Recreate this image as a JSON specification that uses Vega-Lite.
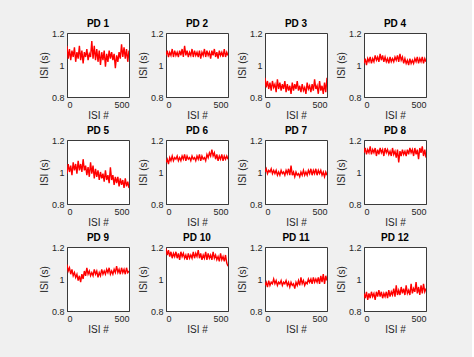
{
  "$schema": "https://vega.github.io/schema/vega-lite/v6.json",
  "background": "#f0f0f0",
  "padding": {"left": 39, "top": 18, "right": 45, "bottom": 22},
  "config": {
    "font": "Liberation Sans",
    "view": {"fill": "white", "stroke": "#3a3a3a", "strokeWidth": 1},
    "axis": {
      "domainColor": "#3a3a3a",
      "labelColor": "#262626",
      "labelFontSize": 9,
      "titleColor": "#262626",
      "titleFontSize": 10,
      "titleFontWeight": "normal",
      "ticks": false,
      "grid": false,
      "labelPadding": 3
    },
    "header": {
      "labelFontSize": 10,
      "labelFontWeight": "bold",
      "labelColor": "black",
      "labelPadding": 0
    }
  },
  "data": {
    "values": [
      {"pd":1,"n":0,"isi":1.12},{"pd":1,"n":10,"isi":1.04},{"pd":1,"n":20,"isi":1.10},{"pd":1,"n":30,"isi":1.03},{"pd":1,"n":40,"isi":1.09},{"pd":1,"n":50,"isi":1.05},{"pd":1,"n":60,"isi":1.11},{"pd":1,"n":70,"isi":1.02},{"pd":1,"n":80,"isi":1.08},{"pd":1,"n":90,"isi":1.04},{"pd":1,"n":100,"isi":1.12},{"pd":1,"n":110,"isi":1.03},{"pd":1,"n":120,"isi":1.09},{"pd":1,"n":130,"isi":1.01},{"pd":1,"n":140,"isi":1.08},{"pd":1,"n":150,"isi":1.05},{"pd":1,"n":160,"isi":1.10},{"pd":1,"n":170,"isi":1.03},{"pd":1,"n":180,"isi":1.07},{"pd":1,"n":190,"isi":1.05},{"pd":1,"n":200,"isi":1.15},{"pd":1,"n":210,"isi":1.04},{"pd":1,"n":220,"isi":1.12},{"pd":1,"n":230,"isi":1.03},{"pd":1,"n":240,"isi":1.10},{"pd":1,"n":250,"isi":1.02},{"pd":1,"n":260,"isi":1.09},{"pd":1,"n":270,"isi":1.00},{"pd":1,"n":280,"isi":1.08},{"pd":1,"n":290,"isi":1.03},{"pd":1,"n":300,"isi":1.09},{"pd":1,"n":310,"isi":0.99},{"pd":1,"n":320,"isi":1.07},{"pd":1,"n":330,"isi":1.02},{"pd":1,"n":340,"isi":1.09},{"pd":1,"n":350,"isi":1.04},{"pd":1,"n":360,"isi":1.08},{"pd":1,"n":370,"isi":1.03},{"pd":1,"n":380,"isi":1.07},{"pd":1,"n":390,"isi":0.98},{"pd":1,"n":400,"isi":1.06},{"pd":1,"n":410,"isi":1.02},{"pd":1,"n":420,"isi":1.08},{"pd":1,"n":430,"isi":1.04},{"pd":1,"n":440,"isi":1.13},{"pd":1,"n":450,"isi":1.05},{"pd":1,"n":460,"isi":1.11},{"pd":1,"n":470,"isi":1.04},{"pd":1,"n":480,"isi":1.10},{"pd":1,"n":490,"isi":1.02},{"pd":1,"n":500,"isi":1.09},
      {"pd":2,"n":0,"isi":1.06},{"pd":2,"n":10,"isi":1.09},{"pd":2,"n":20,"isi":1.05},{"pd":2,"n":30,"isi":1.08},{"pd":2,"n":40,"isi":1.06},{"pd":2,"n":50,"isi":1.10},{"pd":2,"n":60,"isi":1.05},{"pd":2,"n":70,"isi":1.09},{"pd":2,"n":80,"isi":1.06},{"pd":2,"n":90,"isi":1.08},{"pd":2,"n":100,"isi":1.05},{"pd":2,"n":110,"isi":1.09},{"pd":2,"n":120,"isi":1.06},{"pd":2,"n":130,"isi":1.10},{"pd":2,"n":140,"isi":1.05},{"pd":2,"n":150,"isi":1.12},{"pd":2,"n":160,"isi":1.06},{"pd":2,"n":170,"isi":1.09},{"pd":2,"n":180,"isi":1.05},{"pd":2,"n":190,"isi":1.08},{"pd":2,"n":200,"isi":1.06},{"pd":2,"n":210,"isi":1.10},{"pd":2,"n":220,"isi":1.05},{"pd":2,"n":230,"isi":1.09},{"pd":2,"n":240,"isi":1.06},{"pd":2,"n":250,"isi":1.08},{"pd":2,"n":260,"isi":1.05},{"pd":2,"n":270,"isi":1.09},{"pd":2,"n":280,"isi":1.04},{"pd":2,"n":290,"isi":1.08},{"pd":2,"n":300,"isi":1.06},{"pd":2,"n":310,"isi":1.10},{"pd":2,"n":320,"isi":1.05},{"pd":2,"n":330,"isi":1.09},{"pd":2,"n":340,"isi":1.06},{"pd":2,"n":350,"isi":1.08},{"pd":2,"n":360,"isi":1.04},{"pd":2,"n":370,"isi":1.09},{"pd":2,"n":380,"isi":1.06},{"pd":2,"n":390,"isi":1.10},{"pd":2,"n":400,"isi":1.05},{"pd":2,"n":410,"isi":1.08},{"pd":2,"n":420,"isi":1.04},{"pd":2,"n":430,"isi":1.09},{"pd":2,"n":440,"isi":1.06},{"pd":2,"n":450,"isi":1.08},{"pd":2,"n":460,"isi":1.05},{"pd":2,"n":470,"isi":1.10},{"pd":2,"n":480,"isi":1.05},{"pd":2,"n":490,"isi":1.08},{"pd":2,"n":500,"isi":1.06},
      {"pd":3,"n":0,"isi":0.92},{"pd":3,"n":10,"isi":0.86},{"pd":3,"n":20,"isi":0.90},{"pd":3,"n":30,"isi":0.85},{"pd":3,"n":40,"isi":0.89},{"pd":3,"n":50,"isi":0.84},{"pd":3,"n":60,"isi":0.90},{"pd":3,"n":70,"isi":0.86},{"pd":3,"n":80,"isi":0.88},{"pd":3,"n":90,"isi":0.83},{"pd":3,"n":100,"isi":0.91},{"pd":3,"n":110,"isi":0.85},{"pd":3,"n":120,"isi":0.89},{"pd":3,"n":130,"isi":0.84},{"pd":3,"n":140,"isi":0.88},{"pd":3,"n":150,"isi":0.85},{"pd":3,"n":160,"isi":0.90},{"pd":3,"n":170,"isi":0.83},{"pd":3,"n":180,"isi":0.88},{"pd":3,"n":190,"isi":0.84},{"pd":3,"n":200,"isi":0.87},{"pd":3,"n":210,"isi":0.82},{"pd":3,"n":220,"isi":0.89},{"pd":3,"n":230,"isi":0.84},{"pd":3,"n":240,"isi":0.88},{"pd":3,"n":250,"isi":0.85},{"pd":3,"n":260,"isi":0.90},{"pd":3,"n":270,"isi":0.84},{"pd":3,"n":280,"isi":0.87},{"pd":3,"n":290,"isi":0.83},{"pd":3,"n":300,"isi":0.88},{"pd":3,"n":310,"isi":0.84},{"pd":3,"n":320,"isi":0.86},{"pd":3,"n":330,"isi":0.82},{"pd":3,"n":340,"isi":0.89},{"pd":3,"n":350,"isi":0.85},{"pd":3,"n":360,"isi":0.87},{"pd":3,"n":370,"isi":0.83},{"pd":3,"n":380,"isi":0.88},{"pd":3,"n":390,"isi":0.84},{"pd":3,"n":400,"isi":0.91},{"pd":3,"n":410,"isi":0.85},{"pd":3,"n":420,"isi":0.87},{"pd":3,"n":430,"isi":0.82},{"pd":3,"n":440,"isi":0.90},{"pd":3,"n":450,"isi":0.84},{"pd":3,"n":460,"isi":0.87},{"pd":3,"n":470,"isi":0.82},{"pd":3,"n":480,"isi":0.89},{"pd":3,"n":490,"isi":0.83},{"pd":3,"n":500,"isi":0.92},
      {"pd":4,"n":0,"isi":1.01},{"pd":4,"n":10,"isi":1.04},{"pd":4,"n":20,"isi":1.00},{"pd":4,"n":30,"isi":1.04},{"pd":4,"n":40,"isi":1.02},{"pd":4,"n":50,"isi":1.05},{"pd":4,"n":60,"isi":1.01},{"pd":4,"n":70,"isi":1.04},{"pd":4,"n":80,"isi":1.02},{"pd":4,"n":90,"isi":1.06},{"pd":4,"n":100,"isi":1.03},{"pd":4,"n":110,"isi":1.05},{"pd":4,"n":120,"isi":1.02},{"pd":4,"n":130,"isi":1.07},{"pd":4,"n":140,"isi":1.03},{"pd":4,"n":150,"isi":1.06},{"pd":4,"n":160,"isi":1.02},{"pd":4,"n":170,"isi":1.05},{"pd":4,"n":180,"isi":1.02},{"pd":4,"n":190,"isi":1.04},{"pd":4,"n":200,"isi":1.01},{"pd":4,"n":210,"isi":1.05},{"pd":4,"n":220,"isi":1.02},{"pd":4,"n":230,"isi":1.04},{"pd":4,"n":240,"isi":1.02},{"pd":4,"n":250,"isi":1.05},{"pd":4,"n":260,"isi":1.03},{"pd":4,"n":270,"isi":1.06},{"pd":4,"n":280,"isi":1.02},{"pd":4,"n":290,"isi":1.07},{"pd":4,"n":300,"isi":1.03},{"pd":4,"n":310,"isi":1.05},{"pd":4,"n":320,"isi":1.01},{"pd":4,"n":330,"isi":1.04},{"pd":4,"n":340,"isi":1.01},{"pd":4,"n":350,"isi":1.03},{"pd":4,"n":360,"isi":1.00},{"pd":4,"n":370,"isi":1.04},{"pd":4,"n":380,"isi":1.01},{"pd":4,"n":390,"isi":1.03},{"pd":4,"n":400,"isi":1.01},{"pd":4,"n":410,"isi":1.04},{"pd":4,"n":420,"isi":1.02},{"pd":4,"n":430,"isi":1.05},{"pd":4,"n":440,"isi":1.01},{"pd":4,"n":450,"isi":1.04},{"pd":4,"n":460,"isi":1.02},{"pd":4,"n":470,"isi":1.05},{"pd":4,"n":480,"isi":1.01},{"pd":4,"n":490,"isi":1.04},{"pd":4,"n":500,"isi":1.02},
      {"pd":5,"n":0,"isi":0.99},{"pd":5,"n":10,"isi":1.05},{"pd":5,"n":20,"isi":1.00},{"pd":5,"n":30,"isi":1.04},{"pd":5,"n":40,"isi":0.98},{"pd":5,"n":50,"isi":1.06},{"pd":5,"n":60,"isi":1.01},{"pd":5,"n":70,"isi":1.05},{"pd":5,"n":80,"isi":0.99},{"pd":5,"n":90,"isi":1.07},{"pd":5,"n":100,"isi":1.01},{"pd":5,"n":110,"isi":1.05},{"pd":5,"n":120,"isi":1.00},{"pd":5,"n":130,"isi":1.08},{"pd":5,"n":140,"isi":1.01},{"pd":5,"n":150,"isi":1.04},{"pd":5,"n":160,"isi":0.98},{"pd":5,"n":170,"isi":1.03},{"pd":5,"n":180,"isi":0.97},{"pd":5,"n":190,"isi":1.06},{"pd":5,"n":200,"isi":0.99},{"pd":5,"n":210,"isi":1.04},{"pd":5,"n":220,"isi":0.96},{"pd":5,"n":230,"isi":1.02},{"pd":5,"n":240,"isi":0.97},{"pd":5,"n":250,"isi":1.01},{"pd":5,"n":260,"isi":0.95},{"pd":5,"n":270,"isi":1.00},{"pd":5,"n":280,"isi":0.96},{"pd":5,"n":290,"isi":0.99},{"pd":5,"n":300,"isi":0.94},{"pd":5,"n":310,"isi":1.01},{"pd":5,"n":320,"isi":0.95},{"pd":5,"n":330,"isi":0.98},{"pd":5,"n":340,"isi":0.93},{"pd":5,"n":350,"isi":1.03},{"pd":5,"n":360,"isi":0.95},{"pd":5,"n":370,"isi":0.98},{"pd":5,"n":380,"isi":0.92},{"pd":5,"n":390,"isi":0.97},{"pd":5,"n":400,"isi":0.93},{"pd":5,"n":410,"isi":0.97},{"pd":5,"n":420,"isi":0.91},{"pd":5,"n":430,"isi":0.96},{"pd":5,"n":440,"isi":0.92},{"pd":5,"n":450,"isi":0.95},{"pd":5,"n":460,"isi":0.90},{"pd":5,"n":470,"isi":0.96},{"pd":5,"n":480,"isi":0.91},{"pd":5,"n":490,"isi":0.94},{"pd":5,"n":500,"isi":0.90},
      {"pd":6,"n":0,"isi":1.06},{"pd":6,"n":10,"isi":1.08},{"pd":6,"n":20,"isi":1.05},{"pd":6,"n":30,"isi":1.09},{"pd":6,"n":40,"isi":1.07},{"pd":6,"n":50,"isi":1.10},{"pd":6,"n":60,"isi":1.07},{"pd":6,"n":70,"isi":1.09},{"pd":6,"n":80,"isi":1.08},{"pd":6,"n":90,"isi":1.10},{"pd":6,"n":100,"isi":1.07},{"pd":6,"n":110,"isi":1.09},{"pd":6,"n":120,"isi":1.07},{"pd":6,"n":130,"isi":1.10},{"pd":6,"n":140,"isi":1.08},{"pd":6,"n":150,"isi":1.11},{"pd":6,"n":160,"isi":1.07},{"pd":6,"n":170,"isi":1.10},{"pd":6,"n":180,"isi":1.08},{"pd":6,"n":190,"isi":1.09},{"pd":6,"n":200,"isi":1.07},{"pd":6,"n":210,"isi":1.10},{"pd":6,"n":220,"isi":1.08},{"pd":6,"n":230,"isi":1.09},{"pd":6,"n":240,"isi":1.07},{"pd":6,"n":250,"isi":1.10},{"pd":6,"n":260,"isi":1.08},{"pd":6,"n":270,"isi":1.11},{"pd":6,"n":280,"isi":1.07},{"pd":6,"n":290,"isi":1.10},{"pd":6,"n":300,"isi":1.08},{"pd":6,"n":310,"isi":1.09},{"pd":6,"n":320,"isi":1.07},{"pd":6,"n":330,"isi":1.11},{"pd":6,"n":340,"isi":1.09},{"pd":6,"n":350,"isi":1.12},{"pd":6,"n":360,"isi":1.10},{"pd":6,"n":370,"isi":1.14},{"pd":6,"n":380,"isi":1.10},{"pd":6,"n":390,"isi":1.12},{"pd":6,"n":400,"isi":1.08},{"pd":6,"n":410,"isi":1.11},{"pd":6,"n":420,"isi":1.07},{"pd":6,"n":430,"isi":1.10},{"pd":6,"n":440,"isi":1.08},{"pd":6,"n":450,"isi":1.11},{"pd":6,"n":460,"isi":1.07},{"pd":6,"n":470,"isi":1.10},{"pd":6,"n":480,"isi":1.08},{"pd":6,"n":490,"isi":1.10},{"pd":6,"n":500,"isi":1.08},
      {"pd":7,"n":0,"isi":1.00},{"pd":7,"n":10,"isi":1.02},{"pd":7,"n":20,"isi":0.99},{"pd":7,"n":30,"isi":1.01},{"pd":7,"n":40,"isi":1.00},{"pd":7,"n":50,"isi":1.02},{"pd":7,"n":60,"isi":0.99},{"pd":7,"n":70,"isi":1.01},{"pd":7,"n":80,"isi":0.99},{"pd":7,"n":90,"isi":1.01},{"pd":7,"n":100,"isi":0.98},{"pd":7,"n":110,"isi":1.00},{"pd":7,"n":120,"isi":0.98},{"pd":7,"n":130,"isi":1.01},{"pd":7,"n":140,"isi":0.99},{"pd":7,"n":150,"isi":1.00},{"pd":7,"n":160,"isi":0.98},{"pd":7,"n":170,"isi":1.01},{"pd":7,"n":180,"isi":0.99},{"pd":7,"n":190,"isi":1.02},{"pd":7,"n":200,"isi":0.98},{"pd":7,"n":210,"isi":1.04},{"pd":7,"n":220,"isi":0.98},{"pd":7,"n":230,"isi":1.00},{"pd":7,"n":240,"isi":0.97},{"pd":7,"n":250,"isi":1.00},{"pd":7,"n":260,"isi":0.98},{"pd":7,"n":270,"isi":0.99},{"pd":7,"n":280,"isi":0.97},{"pd":7,"n":290,"isi":1.00},{"pd":7,"n":300,"isi":0.98},{"pd":7,"n":310,"isi":1.01},{"pd":7,"n":320,"isi":0.98},{"pd":7,"n":330,"isi":1.00},{"pd":7,"n":340,"isi":0.98},{"pd":7,"n":350,"isi":1.01},{"pd":7,"n":360,"isi":0.99},{"pd":7,"n":370,"isi":1.02},{"pd":7,"n":380,"isi":0.98},{"pd":7,"n":390,"isi":1.01},{"pd":7,"n":400,"isi":0.99},{"pd":7,"n":410,"isi":1.02},{"pd":7,"n":420,"isi":0.98},{"pd":7,"n":430,"isi":1.01},{"pd":7,"n":440,"isi":0.99},{"pd":7,"n":450,"isi":1.01},{"pd":7,"n":460,"isi":0.98},{"pd":7,"n":470,"isi":1.00},{"pd":7,"n":480,"isi":0.97},{"pd":7,"n":490,"isi":1.00},{"pd":7,"n":500,"isi":0.98},
      {"pd":8,"n":0,"isi":1.12},{"pd":8,"n":10,"isi":1.15},{"pd":8,"n":20,"isi":1.11},{"pd":8,"n":30,"isi":1.14},{"pd":8,"n":40,"isi":1.12},{"pd":8,"n":50,"isi":1.16},{"pd":8,"n":60,"isi":1.11},{"pd":8,"n":70,"isi":1.14},{"pd":8,"n":80,"isi":1.12},{"pd":8,"n":90,"isi":1.15},{"pd":8,"n":100,"isi":1.10},{"pd":8,"n":110,"isi":1.14},{"pd":8,"n":120,"isi":1.11},{"pd":8,"n":130,"isi":1.15},{"pd":8,"n":140,"isi":1.12},{"pd":8,"n":150,"isi":1.14},{"pd":8,"n":160,"isi":1.10},{"pd":8,"n":170,"isi":1.15},{"pd":8,"n":180,"isi":1.12},{"pd":8,"n":190,"isi":1.14},{"pd":8,"n":200,"isi":1.11},{"pd":8,"n":210,"isi":1.13},{"pd":8,"n":220,"isi":1.10},{"pd":8,"n":230,"isi":1.15},{"pd":8,"n":240,"isi":1.11},{"pd":8,"n":250,"isi":1.13},{"pd":8,"n":260,"isi":1.09},{"pd":8,"n":270,"isi":1.14},{"pd":8,"n":280,"isi":1.06},{"pd":8,"n":290,"isi":1.13},{"pd":8,"n":300,"isi":1.10},{"pd":8,"n":310,"isi":1.14},{"pd":8,"n":320,"isi":1.11},{"pd":8,"n":330,"isi":1.13},{"pd":8,"n":340,"isi":1.10},{"pd":8,"n":350,"isi":1.14},{"pd":8,"n":360,"isi":1.11},{"pd":8,"n":370,"isi":1.15},{"pd":8,"n":380,"isi":1.12},{"pd":8,"n":390,"isi":1.14},{"pd":8,"n":400,"isi":1.10},{"pd":8,"n":410,"isi":1.15},{"pd":8,"n":420,"isi":1.11},{"pd":8,"n":430,"isi":1.14},{"pd":8,"n":440,"isi":1.08},{"pd":8,"n":450,"isi":1.15},{"pd":8,"n":460,"isi":1.12},{"pd":8,"n":470,"isi":1.16},{"pd":8,"n":480,"isi":1.10},{"pd":8,"n":490,"isi":1.14},{"pd":8,"n":500,"isi":1.09},
      {"pd":9,"n":0,"isi":1.09},{"pd":9,"n":10,"isi":1.05},{"pd":9,"n":20,"isi":1.07},{"pd":9,"n":30,"isi":1.03},{"pd":9,"n":40,"isi":1.06},{"pd":9,"n":50,"isi":1.02},{"pd":9,"n":60,"isi":1.04},{"pd":9,"n":70,"isi":1.01},{"pd":9,"n":80,"isi":1.03},{"pd":9,"n":90,"isi":0.99},{"pd":9,"n":100,"isi":1.02},{"pd":9,"n":110,"isi":0.98},{"pd":9,"n":120,"isi":1.03},{"pd":9,"n":130,"isi":1.00},{"pd":9,"n":140,"isi":1.05},{"pd":9,"n":150,"isi":1.02},{"pd":9,"n":160,"isi":1.07},{"pd":9,"n":170,"isi":1.03},{"pd":9,"n":180,"isi":1.05},{"pd":9,"n":190,"isi":1.02},{"pd":9,"n":200,"isi":1.04},{"pd":9,"n":210,"isi":1.02},{"pd":9,"n":220,"isi":1.06},{"pd":9,"n":230,"isi":1.03},{"pd":9,"n":240,"isi":1.05},{"pd":9,"n":250,"isi":1.01},{"pd":9,"n":260,"isi":1.04},{"pd":9,"n":270,"isi":1.02},{"pd":9,"n":280,"isi":1.06},{"pd":9,"n":290,"isi":1.03},{"pd":9,"n":300,"isi":1.05},{"pd":9,"n":310,"isi":1.03},{"pd":9,"n":320,"isi":1.06},{"pd":9,"n":330,"isi":1.04},{"pd":9,"n":340,"isi":1.07},{"pd":9,"n":350,"isi":1.03},{"pd":9,"n":360,"isi":1.05},{"pd":9,"n":370,"isi":1.03},{"pd":9,"n":380,"isi":1.06},{"pd":9,"n":390,"isi":1.04},{"pd":9,"n":400,"isi":1.08},{"pd":9,"n":410,"isi":1.04},{"pd":9,"n":420,"isi":1.06},{"pd":9,"n":430,"isi":1.03},{"pd":9,"n":440,"isi":1.07},{"pd":9,"n":450,"isi":1.04},{"pd":9,"n":460,"isi":1.06},{"pd":9,"n":470,"isi":1.03},{"pd":9,"n":480,"isi":1.07},{"pd":9,"n":490,"isi":1.04},{"pd":9,"n":500,"isi":1.05},
      {"pd":10,"n":0,"isi":1.19},{"pd":10,"n":10,"isi":1.15},{"pd":10,"n":20,"isi":1.18},{"pd":10,"n":30,"isi":1.14},{"pd":10,"n":40,"isi":1.17},{"pd":10,"n":50,"isi":1.13},{"pd":10,"n":60,"isi":1.16},{"pd":10,"n":70,"isi":1.14},{"pd":10,"n":80,"isi":1.17},{"pd":10,"n":90,"isi":1.13},{"pd":10,"n":100,"isi":1.16},{"pd":10,"n":110,"isi":1.12},{"pd":10,"n":120,"isi":1.17},{"pd":10,"n":130,"isi":1.14},{"pd":10,"n":140,"isi":1.16},{"pd":10,"n":150,"isi":1.13},{"pd":10,"n":160,"isi":1.15},{"pd":10,"n":170,"isi":1.12},{"pd":10,"n":180,"isi":1.16},{"pd":10,"n":190,"isi":1.13},{"pd":10,"n":200,"isi":1.15},{"pd":10,"n":210,"isi":1.13},{"pd":10,"n":220,"isi":1.17},{"pd":10,"n":230,"isi":1.13},{"pd":10,"n":240,"isi":1.16},{"pd":10,"n":250,"isi":1.14},{"pd":10,"n":260,"isi":1.18},{"pd":10,"n":270,"isi":1.13},{"pd":10,"n":280,"isi":1.16},{"pd":10,"n":290,"isi":1.12},{"pd":10,"n":300,"isi":1.15},{"pd":10,"n":310,"isi":1.13},{"pd":10,"n":320,"isi":1.17},{"pd":10,"n":330,"isi":1.12},{"pd":10,"n":340,"isi":1.16},{"pd":10,"n":350,"isi":1.13},{"pd":10,"n":360,"isi":1.15},{"pd":10,"n":370,"isi":1.12},{"pd":10,"n":380,"isi":1.17},{"pd":10,"n":390,"isi":1.13},{"pd":10,"n":400,"isi":1.15},{"pd":10,"n":410,"isi":1.12},{"pd":10,"n":420,"isi":1.14},{"pd":10,"n":430,"isi":1.11},{"pd":10,"n":440,"isi":1.16},{"pd":10,"n":450,"isi":1.12},{"pd":10,"n":460,"isi":1.14},{"pd":10,"n":470,"isi":1.11},{"pd":10,"n":480,"isi":1.15},{"pd":10,"n":490,"isi":1.10},{"pd":10,"n":500,"isi":1.08},
      {"pd":11,"n":0,"isi":0.96},{"pd":11,"n":10,"isi":0.98},{"pd":11,"n":20,"isi":0.95},{"pd":11,"n":30,"isi":0.99},{"pd":11,"n":40,"isi":0.96},{"pd":11,"n":50,"isi":0.98},{"pd":11,"n":60,"isi":0.97},{"pd":11,"n":70,"isi":1.00},{"pd":11,"n":80,"isi":0.97},{"pd":11,"n":90,"isi":0.99},{"pd":11,"n":100,"isi":0.96},{"pd":11,"n":110,"isi":0.98},{"pd":11,"n":120,"isi":0.97},{"pd":11,"n":130,"isi":0.99},{"pd":11,"n":140,"isi":0.96},{"pd":11,"n":150,"isi":0.98},{"pd":11,"n":160,"isi":0.97},{"pd":11,"n":170,"isi":0.99},{"pd":11,"n":180,"isi":0.96},{"pd":11,"n":190,"isi":0.98},{"pd":11,"n":200,"isi":0.95},{"pd":11,"n":210,"isi":0.98},{"pd":11,"n":220,"isi":0.96},{"pd":11,"n":230,"isi":0.97},{"pd":11,"n":240,"isi":0.94},{"pd":11,"n":250,"isi":0.98},{"pd":11,"n":260,"isi":0.96},{"pd":11,"n":270,"isi":0.99},{"pd":11,"n":280,"isi":0.96},{"pd":11,"n":290,"isi":1.01},{"pd":11,"n":300,"isi":0.97},{"pd":11,"n":310,"isi":0.99},{"pd":11,"n":320,"isi":0.96},{"pd":11,"n":330,"isi":0.98},{"pd":11,"n":340,"isi":0.97},{"pd":11,"n":350,"isi":1.00},{"pd":11,"n":360,"isi":0.98},{"pd":11,"n":370,"isi":1.00},{"pd":11,"n":380,"isi":0.97},{"pd":11,"n":390,"isi":1.01},{"pd":11,"n":400,"isi":0.98},{"pd":11,"n":410,"isi":1.00},{"pd":11,"n":420,"isi":0.98},{"pd":11,"n":430,"isi":1.01},{"pd":11,"n":440,"isi":0.97},{"pd":11,"n":450,"isi":1.02},{"pd":11,"n":460,"isi":0.98},{"pd":11,"n":470,"isi":1.03},{"pd":11,"n":480,"isi":0.97},{"pd":11,"n":490,"isi":1.02},{"pd":11,"n":500,"isi":0.99},
      {"pd":12,"n":0,"isi":0.91},{"pd":12,"n":10,"isi":0.88},{"pd":12,"n":20,"isi":0.92},{"pd":12,"n":30,"isi":0.87},{"pd":12,"n":40,"isi":0.91},{"pd":12,"n":50,"isi":0.88},{"pd":12,"n":60,"isi":0.92},{"pd":12,"n":70,"isi":0.89},{"pd":12,"n":80,"isi":0.91},{"pd":12,"n":90,"isi":0.87},{"pd":12,"n":100,"isi":0.92},{"pd":12,"n":110,"isi":0.89},{"pd":12,"n":120,"isi":0.93},{"pd":12,"n":130,"isi":0.89},{"pd":12,"n":140,"isi":0.92},{"pd":12,"n":150,"isi":0.88},{"pd":12,"n":160,"isi":0.91},{"pd":12,"n":170,"isi":0.89},{"pd":12,"n":180,"isi":0.92},{"pd":12,"n":190,"isi":0.88},{"pd":12,"n":200,"isi":0.93},{"pd":12,"n":210,"isi":0.89},{"pd":12,"n":220,"isi":0.92},{"pd":12,"n":230,"isi":0.90},{"pd":12,"n":240,"isi":0.94},{"pd":12,"n":250,"isi":0.89},{"pd":12,"n":260,"isi":0.96},{"pd":12,"n":270,"isi":0.90},{"pd":12,"n":280,"isi":0.93},{"pd":12,"n":290,"isi":0.90},{"pd":12,"n":300,"isi":0.95},{"pd":12,"n":310,"isi":0.91},{"pd":12,"n":320,"isi":0.94},{"pd":12,"n":330,"isi":0.90},{"pd":12,"n":340,"isi":0.96},{"pd":12,"n":350,"isi":0.91},{"pd":12,"n":360,"isi":0.93},{"pd":12,"n":370,"isi":0.90},{"pd":12,"n":380,"isi":0.97},{"pd":12,"n":390,"isi":0.91},{"pd":12,"n":400,"isi":0.94},{"pd":12,"n":410,"isi":0.92},{"pd":12,"n":420,"isi":0.98},{"pd":12,"n":430,"isi":0.91},{"pd":12,"n":440,"isi":0.95},{"pd":12,"n":450,"isi":0.90},{"pd":12,"n":460,"isi":0.96},{"pd":12,"n":470,"isi":0.91},{"pd":12,"n":480,"isi":0.97},{"pd":12,"n":490,"isi":0.92},{"pd":12,"n":500,"isi":0.94}
    ]
  },
  "facet": {
    "field": "pd",
    "type": "ordinal",
    "title": null,
    "header": {"labelExpr": "'PD ' + datum.value"}
  },
  "columns": 4,
  "spacing": {"column": 37, "row": 43},
  "bounds": "flush",
  "resolve": {"axis": {"x": "independent", "y": "independent"}},
  "spec": {
    "width": 62,
    "height": 64,
    "mark": {"type": "line", "color": "#ff0000", "strokeWidth": 1.4, "clip": true},
    "encoding": {
      "x": {
        "field": "n",
        "type": "quantitative",
        "title": "ISI #",
        "scale": {"domain": [0, 500], "nice": false, "zero": false},
        "axis": {"values": [0, 500], "titlePadding": 1}
      },
      "y": {
        "field": "isi",
        "type": "quantitative",
        "title": "ISI (s)",
        "scale": {"domain": [0.8, 1.2], "nice": false, "zero": false},
        "axis": {"values": [0.8, 1, 1.2], "format": "~g", "titlePadding": 1.5}
      }
    }
  }
}
